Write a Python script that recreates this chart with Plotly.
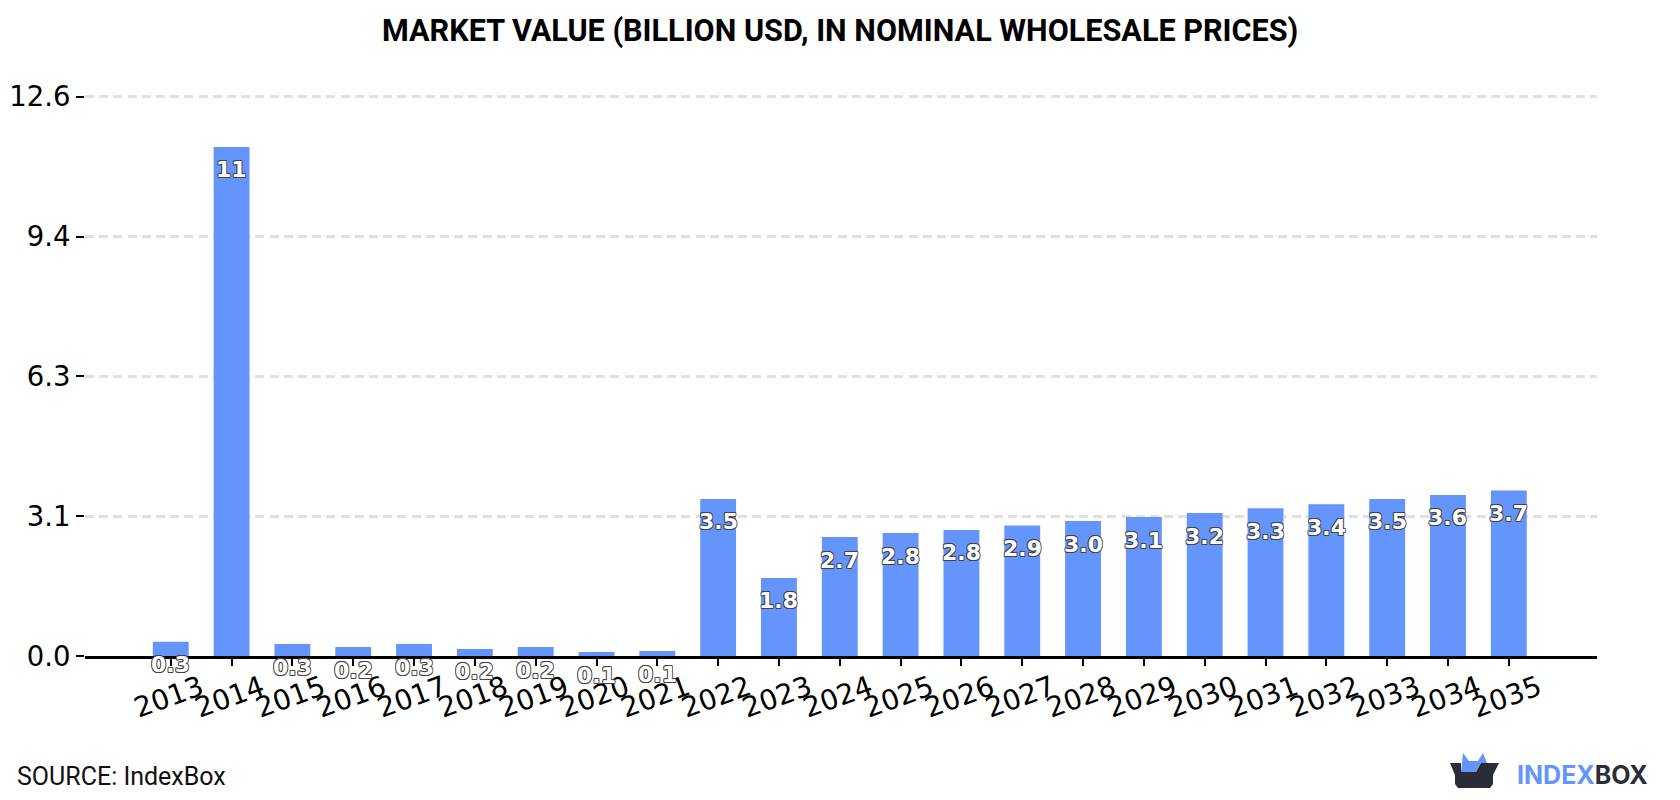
import plotly.graph_objects as go

W, H = 1680, 800
ML, MR, MT, MB = 85, 83, 95, 144

years = [str(y) for y in range(2013, 2036)]
market_value = [0.32, 11.47, 0.27, 0.2, 0.27, 0.16, 0.2, 0.09, 0.11, 3.54, 1.76, 2.68, 2.77,
                2.84, 2.94, 3.04, 3.13, 3.22, 3.33, 3.42, 3.54, 3.63, 3.73]
y_ticks = [0, 3.15, 6.3, 9.45, 12.6]
y_tick_labels = ["0.0", "3.1", "6.3", "9.4", "12.6"]
title_text = "MARKET VALUE (BILLION USD, IN NOMINAL WHOLESALE PRICES)"
source_text = "SOURCE: IndexBox"

BLUE = "#6495fd"
DARK = "#2a2c38"
LABEL_FONT = "DejaVu Sans"
OUTLINE = ("0.8px 0 0 #444, -0.8px 0 0 #444, 0 0.8px 0 #444, 0 -0.8px 0 #444, "
           "0.7px 0.7px 0 #444, -0.7px -0.7px 0 #444, 0.7px -0.7px 0 #444, -0.7px 0.7px 0 #444")


def px(x):
    return (x - ML) / (W - ML - MR)


def py(y):
    return (H - MB - y) / (H - MT - MB)


def path(points):
    return "M" + " L".join(f"{px(x):.5f},{py(y):.5f}" for x, y in points) + " Z"


def bar_label(v):
    return f"{v:.0f}" if v >= 10 else f"{v:.1f}"


fig = go.Figure(go.Bar(x=years, y=market_value, width=0.59, marker_color=BLUE, marker_line_width=0,
                       hoverinfo="skip"))

# value labels sit a fixed distance below each bar's top; a category axis takes its index here
annotations = [
    dict(x=i, y=v, xref="x", yref="y", text=bar_label(v), showarrow=False, yshift=-23,
         xanchor="center", yanchor="middle",
         font=dict(family=LABEL_FONT, size=22, color="white", weight="bold", shadow=OUTLINE))
    for i, v in enumerate(market_value)
]

annotations += [
    dict(x=px(840), y=py(31), xref="paper", yref="paper", text=f"<b>{title_text}</b>", showarrow=False,
         xanchor="center", yanchor="middle", font=dict(family="Roboto", size=30.6, color="#000")),
    dict(x=px(15), y=py(776), xref="paper", yref="paper", text=source_text, showarrow=False,
         xanchor="left", yanchor="middle", font=dict(family="Roboto", size=25, color="#111")),
    dict(x=px(1515), y=py(775), xref="paper", yref="paper",
         text=f"<b><span style='color:{BLUE}'>INDEX</span><span style='color:{DARK}'>BOX</span></b>",
         showarrow=False, xanchor="left", yanchor="middle", font=dict(family="Inter", size=25, color=DARK)),
]

# box-and-crown logo mark
crown = [(1461, 772), (1463, 753), (1469, 761), (1478, 761), (1483, 753), (1487, 763), (1481, 763), (1476, 772)]
box = [(1450, 763), (1461, 763), (1461, 772), (1476, 772), (1481, 763), (1499, 763), (1493, 775), (1493, 784),
       (1490, 788), (1458, 788), (1455, 784), (1455, 775)]
shapes = [
    dict(type="path", xref="paper", yref="paper", path=path(crown), fillcolor=BLUE, line_width=0),
    dict(type="path", xref="paper", yref="paper", path=path(box), fillcolor=DARK, line_width=0),
]

fig.update_layout(
    width=W, height=H, margin=dict(l=ML, r=MR, t=MT, b=MB, pad=0),
    paper_bgcolor="white", plot_bgcolor="white", showlegend=False,
    annotations=annotations, shapes=shapes, bargap=0.41,
    xaxis=dict(type="category", range=[-1.41, 23.45], automargin=False, showgrid=False, showline=True,
               linecolor="#000", linewidth=3, ticks="outside", ticklen=7, tickwidth=2, tickcolor="#000",
               tickangle=-20, ticklabelshift=30, ticklabelstandoff=-5,
               tickfont=dict(family=LABEL_FONT, size=28, color="#000")),
    yaxis=dict(range=[0, 12.64], automargin=False, tickvals=y_ticks, ticktext=y_tick_labels, showgrid=True,
               gridcolor="#e0e0e0", gridwidth=3, griddash="9px,5.2px", zeroline=False, showline=False,
               ticks="outside", ticklen=8, tickwidth=2, tickcolor="#000",
               tickfont=dict(family=LABEL_FONT, size=27.5, color="#000")),
)

fig.write_html("out.html")
